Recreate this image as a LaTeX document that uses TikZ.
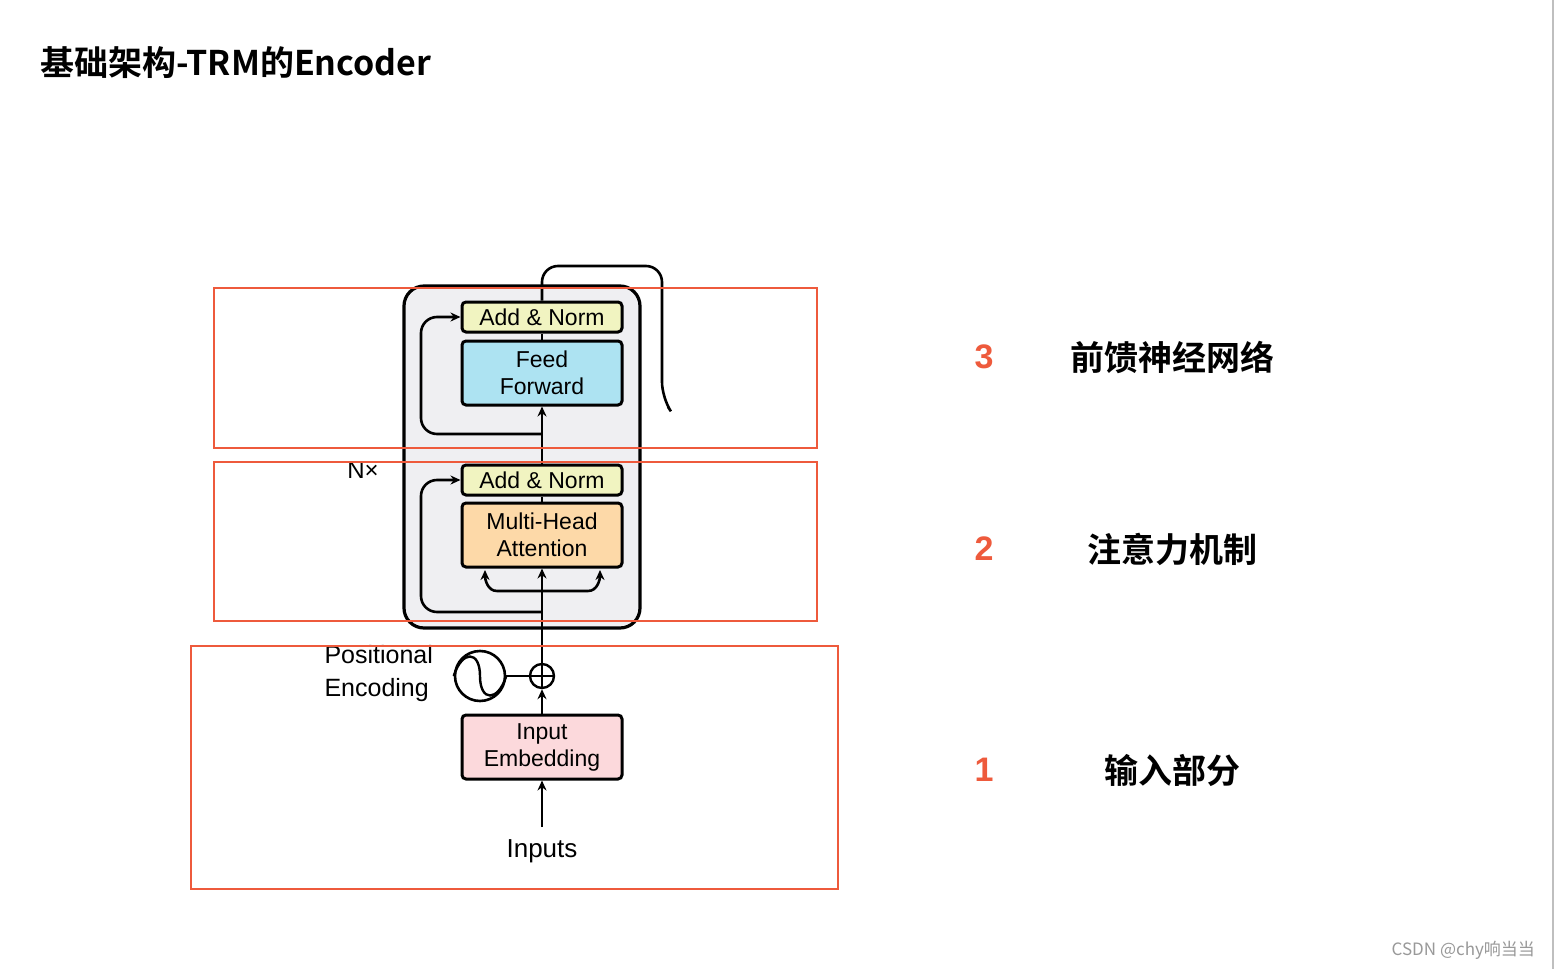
\documentclass[tikz,border=0pt]{standalone}
\usepackage{fontspec}
\setmainfont{Liberation Sans}
\newfontfamily\cjk{Noto Sans CJK SC}[BoldFont={Noto Sans CJK SC Bold}]
\usetikzlibrary{arrows.meta}
\definecolor{redbox}{HTML}{EE5A3C}
\definecolor{an}{HTML}{F1F4C1}
\definecolor{ff}{HTML}{ADE3F2}
\definecolor{mha}{HTML}{FDD9A8}
\definecolor{emb}{HTML}{FCD9DC}
\definecolor{grayfill}{HTML}{EFEFF2}
\begin{document}
\begin{tikzpicture}[x=0.5pt,y=-0.5pt,
  blk/.style={draw=black,line width=1.5pt,rounded corners=2pt,minimum width=80pt,align=center,font=\fontsize{11.5}{13.5}\selectfont,inner sep=0pt},
  rb/.style={draw=redbox,line width=1pt},
  wire/.style={line width=1.3pt},
  arr/.style={wire,-{Stealth[length=5pt,width=4.5pt]}},
  lbl/.style={font=\cjk\bfseries\fontsize{17}{20}\selectfont},
  num/.style={font=\bfseries\fontsize{17}{20}\selectfont,text=redbox}]
\useasboundingbox (0,0) rectangle (1555,969);
\fill[white] (0,0) rectangle (1555,969);
\draw[gray!50,line width=0.8pt] (1553,0) -- (1553,969);
\node[anchor=west,font=\cjk\bfseries\fontsize{17}{20}\selectfont] (title) at (33,63) {基础架构-TRM的Encoder};
% gray container
\node[draw=black,fill=grayfill,line width=1.6pt,rounded corners=10pt,minimum width=118pt,minimum height=171pt,inner sep=0pt] (cont) at (522,457) {};
% blocks
\node[blk,fill=an,minimum height=15pt] (an2) at (542,317) {Add \& Norm};
\node[blk,fill=ff,minimum height=32pt] (ffn) at (542,373) {Feed\\Forward};
\node[blk,fill=an,minimum height=15pt] (an1) at (542,480) {Add \& Norm};
\node[blk,fill=mha,minimum height=32pt] (mh) at (542,535) {Multi-Head\\Attention};
\node[blk,fill=emb,minimum height=32pt] (ie) at (542,747) {Input\\Embedding};
\node[draw=black,line width=1.2pt,circle,minimum size=12pt,inner sep=0pt] (plus) at (542,676) {};
\draw[line width=1.2pt] (plus.north) -- (plus.south) (plus.west) -- (plus.east);
\node[draw=black,line width=1.3pt,circle,minimum size=25pt,inner sep=0pt] (pe) at (480,676) {};
\draw[line width=1.2pt] (pe.west) .. controls (462,650) and (480,650) .. (pe.center) .. controls (480,702) and (498,702) .. (pe.east);
\node[font=\fontsize{13}{15}\selectfont] (inp) at (542,851) {Inputs};
\coordinate (inbot) at (542,827);
\node[anchor=east,align=left,font=\fontsize{12.5}{16.5}\selectfont] (pelbl) at (440,674) {Positional\\Encoding};
\node[font=\fontsize{12}{14}\selectfont] (nx) at (363,470) {N×};
% wires
\draw[arr] (inbot) -- (ie.south);
\draw[arr] (ie.north) -- (plus.south);
\draw[wire] (pe.east) -- (plus.west);
\draw[arr] (plus.north) -- (mh.south);
\coordinate (br) at (542,591);
\draw[arr] (br) -- (497,591) to[out=180,in=270] (485,570);
\draw[arr] (br) -- (588,591) to[out=0,in=270] (600,570);
\draw[arr,rounded corners=8pt] (542,612) -- (421,612) -- (421,480) -- (an1.west);
\draw[wire] (mh.north) -- (an1.south);
\draw[arr] (an1.north) -- (ffn.south);
\draw[arr,rounded corners=8pt] (542,434) -- (421,434) -- (421,317) -- (an2.west);
\draw[wire] (ffn.north) -- (an2.south);
\draw[wire,rounded corners=8pt] (an2.north) -- (542,266) -- (662,266) -- (662,398) -- (668,407);
% red boxes
\node[rb,minimum width=301.5pt,minimum height=80pt,inner sep=0pt] (r3) at (515.5,368) {};
\node[rb,minimum width=301.5pt,minimum height=79.5pt,inner sep=0pt] (r2) at (515.5,541.5) {};
\node[rb,minimum width=323.5pt,minimum height=121.5pt,inner sep=0pt] (r1) at (514.5,767.5) {};
% right labels
\node[num] (n3) at (984,357) {3};
\node[lbl] (l3) at (1172,357) {前馈神经网络};
\node[num] (n2) at (984,549) {2};
\node[lbl] (l2) at (1172,549) {注意力机制};
\node[num] (n1) at (984,770) {1};
\node[lbl] (l1) at (1172,770) {输入部分};
\node[anchor=east,text=gray!80,font=\cjk\fontsize{8.5}{10}\selectfont] (wm) at (1542,950) {CSDN @chy响当当};
\end{tikzpicture}
\end{document}
